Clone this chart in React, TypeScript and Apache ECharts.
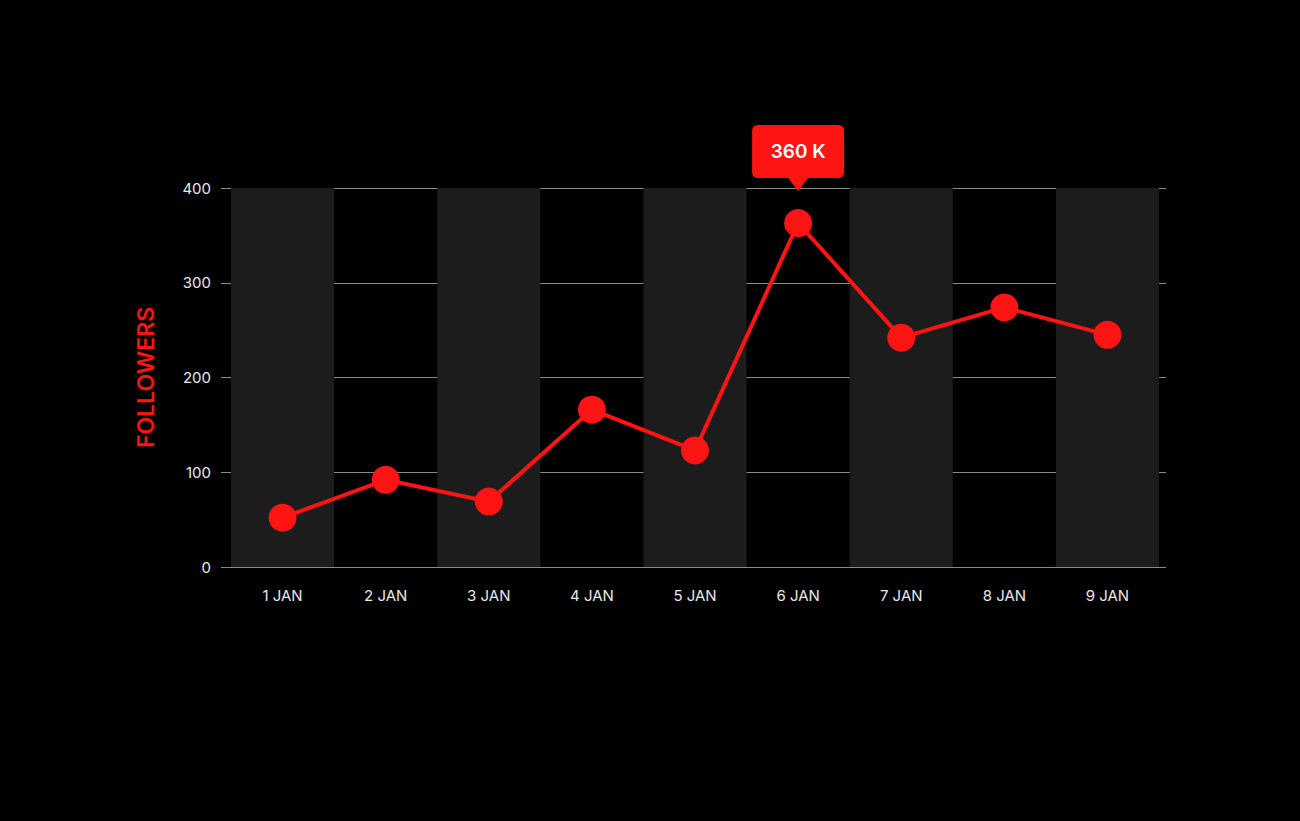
import * as echarts from 'echarts';
import { useEffect, useRef } from 'react';

const days = ['1 JAN', '2 JAN', '3 JAN', '4 JAN', '5 JAN', '6 JAN', '7 JAN', '8 JAN', '9 JAN'];
const followers = [52, 92, 69, 166, 123, 363, 242, 274, 245];
const peakLabel = '360 K';
const peakIndex = 5;

const RED = '#ff1414';
const calloutPath =
  'path://M6,0 H86 Q92,0 92,6 V47 Q92,53 86,53 H56 L46,66 L36,53 H6 Q0,53 0,47 V6 Q0,0 6,0 Z';

export default function App() {
  const chartRef = useRef<HTMLDivElement>(null);

  useEffect(() => {
    document.body.style.margin = '0';
    document.body.style.background = '#000';
    if (!chartRef.current) return;
    const chart = echarts.init(chartRef.current, undefined, { renderer: 'svg' });
    const font = 'Inter, Roboto, "DejaVu Sans", sans-serif';

    chart.setOption({
      animation: false,
      backgroundColor: '#000',
      textStyle: { fontFamily: font },
      grid: [
        { left: 221, right: 134, top: 188, bottom: 254 },
        { left: 231, right: 141, top: 188, bottom: 254 },
      ],
      xAxis: [
        { type: 'category', gridIndex: 0, data: days, show: false },
        {
          type: 'category',
          gridIndex: 1,
          data: days,
          axisLine: { show: false },
          axisTick: { show: false },
          axisLabel: { color: '#e8e8e8', fontSize: 15, margin: 21 },
          splitArea: { show: true, areaStyle: { color: ['#1c1c1c', 'rgba(0,0,0,0)'] } },
        },
      ],
      yAxis: [
        {
          type: 'value',
          gridIndex: 0,
          min: 0,
          max: 400,
          interval: 100,
          name: 'FOLLOWERS',
          nameLocation: 'middle',
          nameGap: 64,
          nameTextStyle: { color: RED, fontSize: 23, fontWeight: 600 },
          axisLine: { show: false },
          axisTick: { show: false },
          axisLabel: { color: '#e8e8e8', fontSize: 15, margin: 10 },
          splitLine: { lineStyle: { color: '#8a8a8a', width: 1 } },
        },
        { type: 'value', gridIndex: 1, min: 0, max: 400, interval: 100, show: false },
      ],
      series: [
        {
          type: 'line',
          xAxisIndex: 1,
          yAxisIndex: 1,
          data: followers,
          symbol: 'circle',
          symbolSize: 28,
          lineStyle: { color: RED, width: 4 },
          itemStyle: { color: RED },
          z: 5,
          markPoint: {
            symbol: calloutPath,
            symbolSize: [92, 66],
            symbolOffset: [0, -65],
            itemStyle: { color: RED },
            label: {
              show: true,
              position: 'inside',
              offset: [0, -7],
              color: '#fff',
              fontSize: 19,
              fontWeight: 600,
              formatter: peakLabel,
            },
            data: [{ coord: [days[peakIndex], followers[peakIndex]] }],
          },
        },
      ],
    });

    return () => chart.dispose();
  }, []);

  return <div ref={chartRef} style={{ width: 1300, height: 821 }} />;
}
